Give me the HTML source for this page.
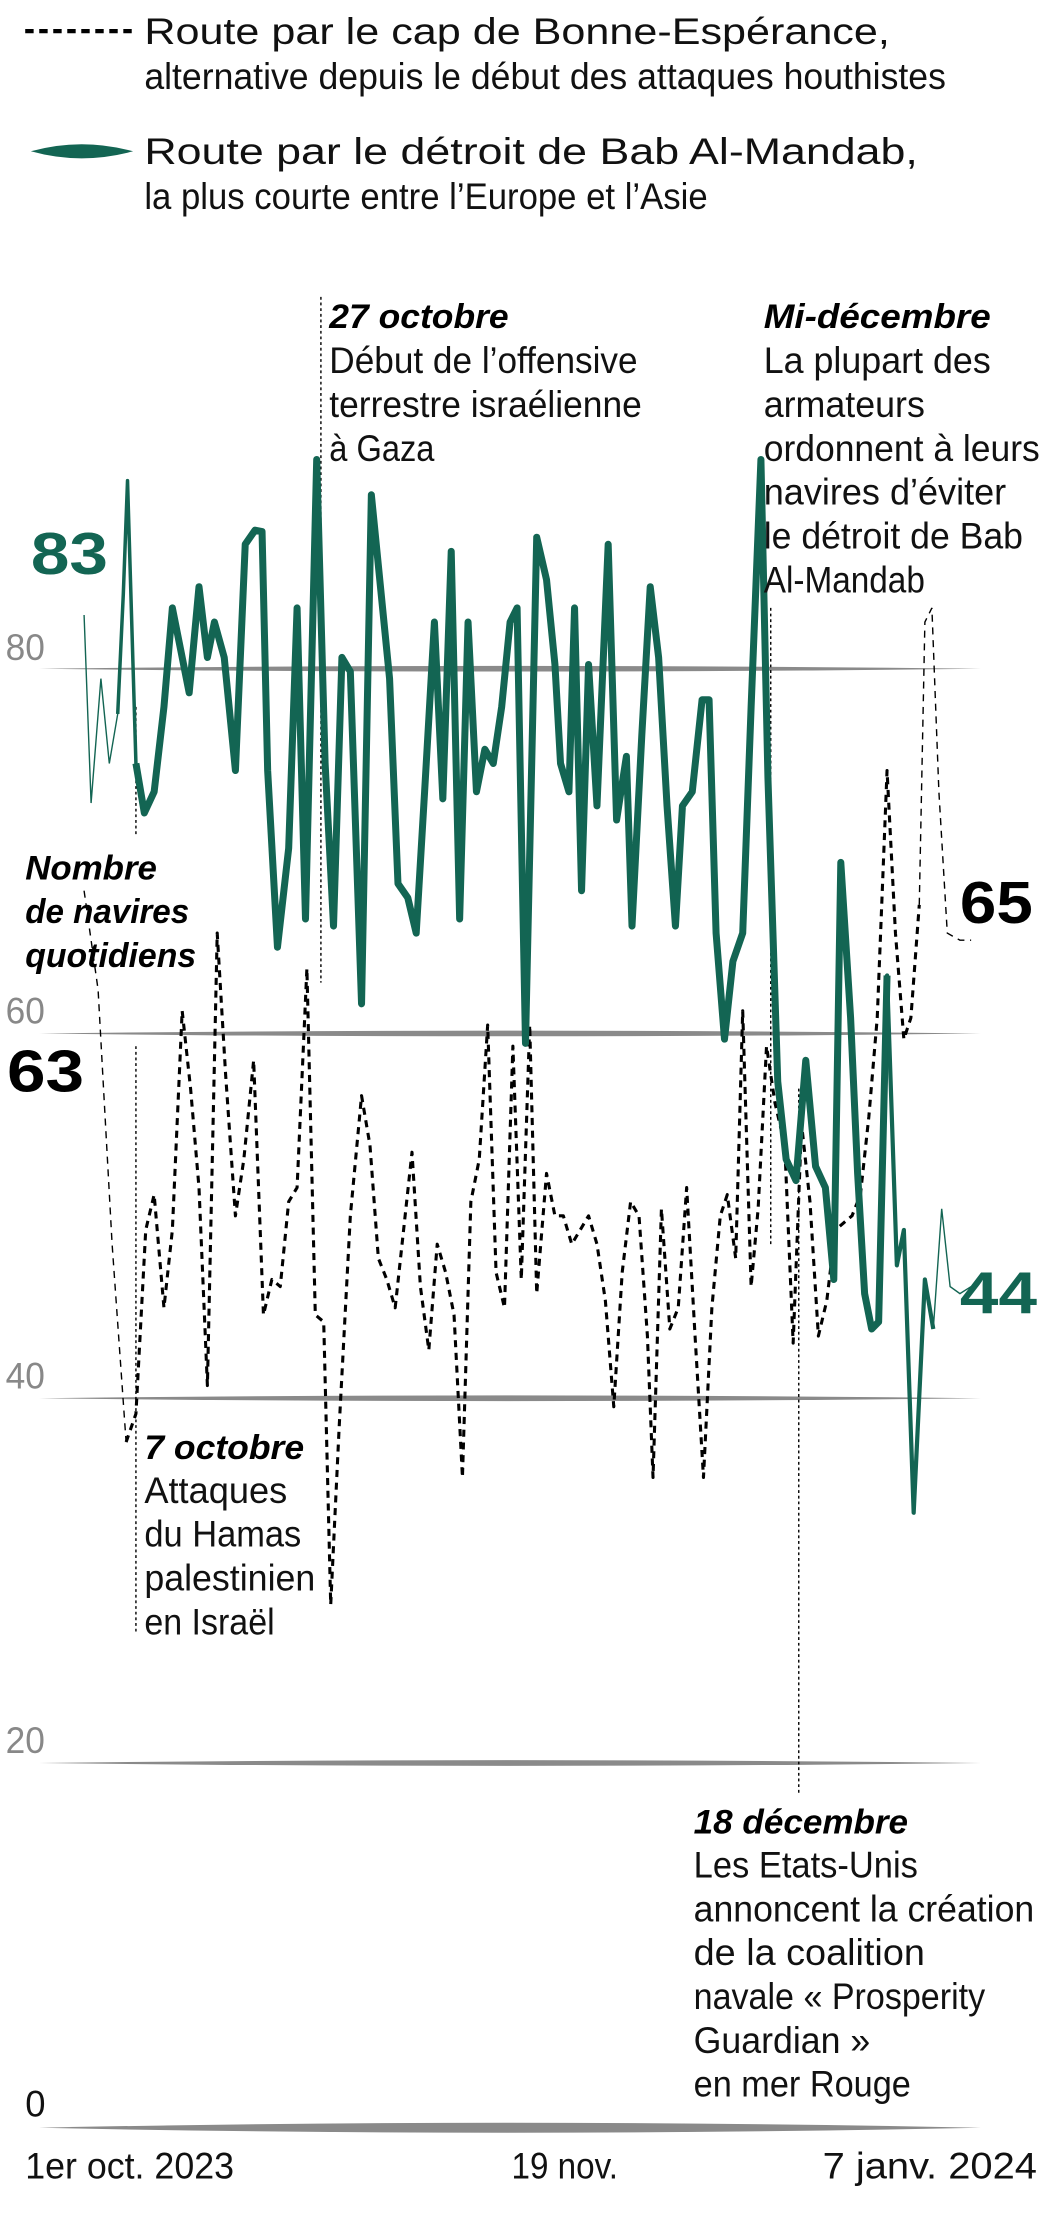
<!DOCTYPE html>
<html><head><meta charset="utf-8"><style>
html,body{margin:0;padding:0;background:#fff;}
svg{display:block}
.t{font-family:"Liberation Sans Narrow","Liberation Sans",sans-serif;font-size:26px;fill:#111}
.b{font-family:"Liberation Sans",sans-serif;font-weight:bold;font-style:italic;font-size:24px;fill:#000}
.g{fill:#888}
</style></head><body>
<svg width="1051" height="2214" viewBox="0 0 750 1566" preserveAspectRatio="none" xmlns="http://www.w3.org/2000/svg">
<!-- legend -->
<path d="M18 22 H95" stroke="#000" stroke-width="3" stroke-dasharray="6,4"/>
<text class="t" x="103" y="31" textLength="532" lengthAdjust="spacingAndGlyphs">Route par le cap de Bonne-Espérance,</text>
<text class="t" x="103" y="63" textLength="572" lengthAdjust="spacingAndGlyphs">alternative depuis le début des attaques houthistes</text>
<path d="M22 107 Q58 97 95 107 Q58 117 22 107Z" fill="#136553"/>
<text class="t" x="103" y="116" textLength="552" lengthAdjust="spacingAndGlyphs">Route par le détroit de Bab Al-Mandab,</text>
<text class="t" x="103" y="148" textLength="402" lengthAdjust="spacingAndGlyphs">la plus courte entre l’Europe et l’Asie</text>
<!-- gridlines -->
<g fill="#8a8a8a">
<path d="M28 473 Q360 469 700 473 Q360 477 28 473Z"/>
<path d="M28 731 Q360 727 700 731 Q360 735 28 731Z"/>
<path d="M28 989 Q360 985 700 989 Q360 993 28 989Z"/>
<path d="M28 1247 Q360 1243 700 1247 Q360 1251 28 1247Z"/>
<path d="M28 1505 Q360 1498 700 1505 Q360 1512 28 1505Z"/>
</g>
<text class="t g" x="4" y="467" textLength="28" lengthAdjust="spacingAndGlyphs">80</text>
<text class="t g" x="4" y="724" textLength="28" lengthAdjust="spacingAndGlyphs">60</text>
<text class="t g" x="4" y="982" textLength="28" lengthAdjust="spacingAndGlyphs">40</text>
<text class="t g" x="4" y="1240" textLength="28" lengthAdjust="spacingAndGlyphs">20</text>
<text class="t" x="18" y="1497">0</text>
<text class="t" x="18" y="1541" textLength="149" lengthAdjust="spacingAndGlyphs">1er oct. 2023</text>
<text class="t" x="365" y="1541" textLength="76" lengthAdjust="spacingAndGlyphs">19 nov.</text>
<text class="t" x="587" y="1541" textLength="153" lengthAdjust="spacingAndGlyphs">7 janv. 2024</text>
<!-- annotation lines -->
<g stroke="#000" stroke-width="1" stroke-dasharray="2,2" fill="none">
<path d="M97 500 V590 M97 740 V1155"/>
<path d="M229 210 V695"/>
<path d="M550 430 V880"/>
<path d="M570 770 V1270"/>
</g>
<!-- dashed series -->
<polyline fill="none" stroke="#000" stroke-width="1" stroke-dasharray="5,4" points="60,630 70,700 80,880 90,1020"/>
<polyline fill="none" stroke="#000" stroke-width="2.2" stroke-dasharray="5,4" stroke-linejoin="round" points="90,1020 97,1000 104,870 110,845 117,925 123,870 130,715 136,770 142,840 148,980 155,660 161,760 168,860 174,820 181,750 188,930 194,905 200,910 206,850 212,840 219,685 225,930 231,935 236,1135 242,1010 250,860 258,775 264,810 270,890 276,905 282,925 288,870 294,815 300,910 306,955 312,880 318,900 324,930 330,1045 336,850 342,820 348,725 354,900 360,925 366,740 372,905 378,725 383,915 390,830 396,860 402,860 408,880 414,870 420,860 426,880 432,920 438,995 444,900 450,850 456,860 462,945 466,1045 472,855 478,940 484,925 490,840 496,945 502,1045 508,925 514,860 519,845 525,890 530,715 536,910 541,855 547,740 553,780 560,810 566,950 572,795 578,850 584,945 590,920 596,870 602,865 608,860 614,845 620,790 626,720 633,545 639,660 645,735 650,720 656,640"/>
<polyline fill="none" stroke="#000" stroke-width="1" stroke-dasharray="5,4" points="656,640 660,440 665,430 670,560 676,660 685,665 693,665"/>
<!-- green series -->
<polyline fill="none" stroke="#136553" stroke-width="1" points="60,435 65,568 72,480 78,540 84,505 88,420"/>
<polyline fill="none" stroke="#136553" stroke-width="2.5" stroke-linejoin="round" points="84,505 88,420 91,340 97,540 103,575"/>
<polyline fill="none" stroke="#136553" stroke-width="5" stroke-linejoin="round" points="97,540 103,575 110,560 117,500 123,430 129,460 135,490 142,415 148,465 153,440 160,465 168,545 175,385 182,375 187,376 191,545 198,670 206,600 212,430 218,650 226,325 232,540 238,655 244,465 250,475 258,710 265,350 270,400 278,480 284,625 291,635 297,660 303,560 310,440 316,565 322,390 328,650 334,440 340,560 346,530 352,540 358,500 364,440 369,430 375,738 383,380 390,410 396,470 400,540 406,560 410,430 415,630 420,470 426,570 434,385 440,580 447,535 451,655 458,520 464,415 470,465 476,570 482,655 487,570 494,560 501,495 506,495 511,660 517,735 523,680 530,660 536,500 543,325 548,550 555,765 561,820 568,835 575,750 582,825 589,840 595,905 600,610 607,720 612,830 617,915 622,940 627,935 633,690"/>
<polyline fill="none" stroke="#136553" stroke-width="3" stroke-linejoin="round" points="627,935 633,690 640,895 645,870 652,1070 660,905 666,940"/>
<polyline fill="none" stroke="#136553" stroke-width="1" points="660,905 666,940 672,855 678,910 685,915 693,910"/>
<!-- annotations -->
<text class="b" x="235" y="232" textLength="128" lengthAdjust="spacingAndGlyphs">27 octobre</text>
<text class="t" x="235" y="264" textLength="220" lengthAdjust="spacingAndGlyphs">Début de l’offensive</text>
<text class="t" x="235" y="295" textLength="223" lengthAdjust="spacingAndGlyphs">terrestre israélienne</text>
<text class="t" x="235" y="326" textLength="75" lengthAdjust="spacingAndGlyphs">à Gaza</text>
<text class="b" x="545" y="232" textLength="162" lengthAdjust="spacingAndGlyphs">Mi-décembre</text>
<text class="t" x="545" y="264" textLength="162" lengthAdjust="spacingAndGlyphs">La plupart des</text>
<text class="t" x="545" y="295" textLength="115" lengthAdjust="spacingAndGlyphs">armateurs</text>
<text class="t" x="545" y="326" textLength="197" lengthAdjust="spacingAndGlyphs">ordonnent à leurs</text>
<text class="t" x="545" y="357" textLength="173" lengthAdjust="spacingAndGlyphs">navires d’éviter</text>
<text class="t" x="545" y="388" textLength="185" lengthAdjust="spacingAndGlyphs">le détroit de Bab</text>
<text class="t" x="545" y="419" textLength="115" lengthAdjust="spacingAndGlyphs">Al-Mandab</text>
<text class="b" x="18" y="622" textLength="94" lengthAdjust="spacingAndGlyphs">Nombre</text>
<text class="b" x="18" y="653" textLength="117" lengthAdjust="spacingAndGlyphs">de navires</text>
<text class="b" x="18" y="684" textLength="122" lengthAdjust="spacingAndGlyphs">quotidiens</text>
<text class="b" x="103" y="1032" textLength="114" lengthAdjust="spacingAndGlyphs">7 octobre</text>
<text class="t" x="103" y="1063" textLength="102" lengthAdjust="spacingAndGlyphs">Attaques</text>
<text class="t" x="103" y="1094" textLength="112" lengthAdjust="spacingAndGlyphs">du Hamas</text>
<text class="t" x="103" y="1125" textLength="122" lengthAdjust="spacingAndGlyphs">palestinien</text>
<text class="t" x="103" y="1156" textLength="93" lengthAdjust="spacingAndGlyphs">en Israël</text>
<text class="b" x="495" y="1297" textLength="153" lengthAdjust="spacingAndGlyphs">18 décembre</text>
<text class="t" x="495" y="1328" textLength="160" lengthAdjust="spacingAndGlyphs">Les Etats-Unis</text>
<text class="t" x="495" y="1359" textLength="243" lengthAdjust="spacingAndGlyphs">annoncent la création</text>
<text class="t" x="495" y="1390" textLength="165" lengthAdjust="spacingAndGlyphs">de la coalition</text>
<text class="t" x="495" y="1421" textLength="208" lengthAdjust="spacingAndGlyphs">navale « Prosperity</text>
<text class="t" x="495" y="1452" textLength="126" lengthAdjust="spacingAndGlyphs">Guardian »</text>
<text class="t" x="495" y="1483" textLength="155" lengthAdjust="spacingAndGlyphs">en mer Rouge</text>
<!-- big numbers -->
<g font-family="Liberation Sans, sans-serif" font-weight="bold" font-size="42">
<text x="22" y="406" fill="#136553" textLength="55" lengthAdjust="spacingAndGlyphs">83</text>
<text x="685" y="653" fill="#000" textLength="52" lengthAdjust="spacingAndGlyphs">65</text>
<text x="5" y="772" fill="#000" textLength="55" lengthAdjust="spacingAndGlyphs">63</text>
<text x="685" y="929" fill="#136553" textLength="55" lengthAdjust="spacingAndGlyphs">44</text>
</g>
</svg>
</body></html>
